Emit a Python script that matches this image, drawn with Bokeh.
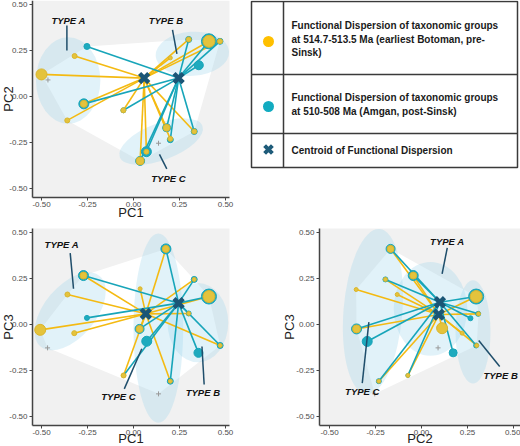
import numpy as np
from bokeh.plotting import figure
from bokeh.layouts import column, row
from bokeh.models import Range1d, FixedTicker, NumeralTickFormatter
from bokeh.embed import file_html
from bokeh.resources import INLINE
from bokeh.core.properties import value

# ---------------- data ----------------
TICKS = [-0.5, -0.25, 0.0, 0.25, 0.5]

# Panel 1 : PC1 (x) vs PC2 (y)
P1_Y_X = [-0.50, -0.32, -0.36, -0.27, -0.055, 0.18, 0.20, 0.33, 0.036, 0.07, 0.41, 0.30, 0.47, 0.20]
P1_Y_Y = [0.12, 0.22, -0.13, -0.04, -0.075, -0.17, -0.23, -0.19, -0.35, -0.30, 0.30, 0.31, 0.30, 0.21]
P1_Y_S = [11, 5, 5, 7, 5, 7, 5, 5, 8, 5, 12, 5, 5, 4]
P1_T_X = [-0.253, -0.27, -0.055, 0.036, 0.07, 0.18, 0.20, 0.33, 0.355, 0.30, 0.41, 0.47]
P1_T_Y = [0.272, -0.04, -0.075, -0.35, -0.30, -0.17, -0.235, -0.19, 0.17, 0.31, 0.30, 0.30]
P1_T_S = [6, 10, 5, 9, 10, 8, 6, 6, 9, 6, 15, 6]
P1_PLUS_X = [-0.465, 0.136]
P1_PLUS_Y = [0.09, -0.254]
P1_CENT_X = [0.058, 0.245]   # yellow, teal
P1_CENT_Y = [0.10, 0.10]
P1_ELL_X = [-0.355, 0.32, 0.15]
P1_ELL_Y = [0.087, 0.232, -0.245]
P1_ELL_W = [0.35, 0.40, 0.48]
P1_ELL_H = [0.47, 0.24, 0.20]
P1_ELL_A = [0.0, 0.06, 0.36]

# Panel 2 : PC1 (x) vs PC3 (y)
P2_Y_X = [-0.507, -0.359, -0.322, -0.272, -0.054, 0.176, 0.20, 0.33, 0.036, 0.033, 0.41, 0.30, 0.471]
P2_Y_Y = [-0.029, 0.163, -0.047, 0.266, -0.277, 0.411, -0.308, 0.245, 0.194, -0.024, 0.152, 0.06, -0.114]
P2_Y_S = [11, 5, 5, 7, 5, 7, 4, 4, 4, 7, 12, 4, 4]
P2_T_X = [-0.272, -0.253, 0.176, 0.33, 0.41, 0.072, 0.033, -0.054, 0.20, 0.353, 0.471, 0.30]
P2_T_Y = [0.266, 0.036, 0.411, 0.245, 0.152, -0.091, -0.024, -0.277, -0.308, -0.154, -0.114, 0.06]
P2_T_S = [10, 5, 10, 6, 15, 10, 9, 4, 6, 9, 6, 5]
P2_PLUS_X = [-0.467, 0.136]
P2_PLUS_Y = [-0.127, -0.377]
P2_CENT_X = [0.067, 0.245]
P2_CENT_Y = [0.058, 0.116]
P2_ELL_X = [-0.344, 0.135, 0.35]
P2_ELL_Y = [0.071, -0.02, 0.01]
P2_ELL_W = [0.50, 0.27, 0.33]
P2_ELL_H = [0.28, 1.03, 0.43]
P2_ELL_A = [0.87, 0.0, 0.0]

# Panel 3 : PC2 (x) vs PC3 (y)
P3_Y_X = [-0.168, -0.045, -0.355, -0.132, 0.297, 0.112, -0.353, -0.074, 0.221, -0.232, -0.196, 0.30, 0.31]
P3_Y_Y = [0.411, 0.266, 0.19, 0.163, 0.152, -0.02, -0.024, -0.277, -0.047, -0.308, 0.245, -0.114, 0.058]
P3_Y_S = [7, 7, 4, 4, 12, 11, 8, 4, 4, 4, 4, 4, 4]
P3_T_X = [-0.168, -0.045, -0.196, 0.297, 0.266, 0.308, 0.297, 0.172, -0.353, -0.295, -0.232, -0.074]
P3_T_Y = [0.411, 0.266, 0.245, 0.152, 0.034, 0.058, -0.114, -0.154, -0.024, -0.092, -0.308, -0.277]
P3_T_S = [9, 10, 5, 15, 5, 5, 5, 8, 10, 10, 5, 4]
P3_PLUS_X = [0.09, -0.254]
P3_PLUS_Y = [-0.127, -0.377]
P3_CENT_X = [0.094, 0.10]
P3_CENT_Y = [0.054, 0.121]
P3_ELL_X = [-0.264, 0.049, 0.28]
P3_ELL_Y = [0.07, 0.085, -0.04]
P3_ELL_W = [0.32, 0.40, 0.19]
P3_ELL_H = [0.90, 0.51, 0.56]
P3_ELL_A = [-0.08, 0.0, 0.0]

TYPE_LABELS = ["TYPE A", "TYPE B", "TYPE C"]

LEGEND_TEXT_1 = ["Functional Dispersion of taxonomic groups",
                 "at 514.7-513.5 Ma (earliest Botoman, pre-",
                 "Sinsk)"]
LEGEND_TEXT_2 = ["Functional Dispersion of taxonomic groups",
                 "at 510-508 Ma (Amgan, post-Sinsk)"]
LEGEND_TEXT_3 = ["Centroid of Functional Dispersion"]

# ---------------- style ----------------
BG = "#f1f1f1"
ELL_FILL = "#9dd3ec"
YEL_LINE = "#f4ba12"
YEL_PT = "#e4c33c"
TEAL_LINE = "#17a5b9"
TEAL_PT = "#1eaabe"
CENT = "#1b5676"
LEADER = "#1f4e6b"
FONT = "Liberation Sans"
SCALE = 184.0   # pixels per PC unit


def hull(xs, ys):
    pts = sorted(set(zip(xs, ys)))
    def cross(o, a, b):
        return (a[0]-o[0])*(b[1]-o[1]) - (a[1]-o[1])*(b[0]-o[0])
    lower, upper = [], []
    for p in pts:
        while len(lower) >= 2 and cross(lower[-2], lower[-1], p) <= 0:
            lower.pop()
        lower.append(p)
    for p in reversed(pts):
        while len(upper) >= 2 and cross(upper[-2], upper[-1], p) <= 0:
            upper.pop()
        upper.append(p)
    h = lower[:-1] + upper[:-1]
    return [p[0] for p in h], [p[1] for p in h]


def panel(width, height, x_px_m05, y_px_p05, panel_x, panel_y,
          yx, yy, ys, tx, ty, ts, px, py, cx, cy,
          ex, ey, ew, eh, ea, labels, leaders, xtitle, ytitle,
          xstand=-7, ystand=-6):
    # x_px_m05: pixel column of x=-0.5 ; y_px_p05: pixel row of y=+0.5
    x0 = -0.5 - x_px_m05 / SCALE
    y1 = 0.5 + y_px_p05 / SCALE
    p = figure(width=width, height=height,
               x_range=Range1d(x0, x0 + width / SCALE),
               y_range=Range1d(y1 - height / SCALE, y1),
               min_border=0, output_backend="svg", toolbar_location=None)
    p.background_fill_color = "white"
    p.border_fill_color = "white"
    p.outline_line_color = None
    p.grid.visible = False

    p.xaxis.fixed_location = panel_y[0]
    p.yaxis.fixed_location = panel_x[0]
    p.xaxis.bounds = panel_x
    p.yaxis.bounds = panel_y
    for ax in (p.xaxis, p.yaxis):
        ax.ticker = FixedTicker(ticks=TICKS)
        ax.formatter = NumeralTickFormatter(format="0.00")
        ax.axis_line_color = "#444444"
        ax.axis_line_width = 1.5
        ax.major_tick_line_color = "#444444"
        ax.major_tick_out = 3
        ax.major_tick_in = 0
        ax.minor_tick_line_color = None
        ax.major_label_text_font = FONT
        ax.major_label_text_font_size = "8px"
        ax.major_label_text_color = "#4d4d4d"
        ax.major_label_standoff = 2
        ax.axis_label_text_font = FONT
        ax.axis_label_text_font_size = "13px"
        ax.axis_label_text_font_style = "normal"
        ax.axis_label_text_color = "#222222"
    p.xaxis.axis_label = xtitle
    p.yaxis.axis_label = ytitle
    p.xaxis.axis_label_standoff = xstand
    p.yaxis.axis_label_standoff = ystand

    # grey panel background
    p.quad(left=[panel_x[0]], right=[panel_x[1]], bottom=[panel_y[0]], top=[panel_y[1]],
           fill_color=BG, line_color=None)

    allx = list(yx) + list(tx) + list(px)
    ally = list(yy) + list(ty) + list(py)
    hx, hy = hull(allx, ally)
    p.patch(hx, hy, fill_color="white", line_color=None)

    p.ellipse(x=ex, y=ey, width=ew, height=eh, angle=ea,
              fill_color=ELL_FILL, fill_alpha=0.3, line_color=None)

    p.segment(x0=[cx[0]]*len(yx), y0=[cy[0]]*len(yx), x1=yx, y1=yy,
              line_color=YEL_LINE, line_width=1.6)
    p.segment(x0=[cx[1]]*len(tx), y0=[cy[1]]*len(tx), x1=tx, y1=ty,
              line_color=TEAL_LINE, line_width=1.6)

    p.scatter(x=px, y=py, marker="cross", size=5, line_color="#999999", line_width=1)
    p.scatter(x=tx, y=ty, size=ts, marker="circle", fill_color=TEAL_PT, line_color=TEAL_LINE, line_width=1)
    p.scatter(x=yx, y=yy, size=ys, marker="circle", fill_color=YEL_PT, line_color="#dbb52c", line_width=1)
    p.scatter(x=cx, y=cy, marker="x", size=13, line_width=4.5, line_color=CENT)

    p.segment(x0=[l[0] for l in leaders], y0=[l[1] for l in leaders],
              x1=[l[2] for l in leaders], y1=[l[3] for l in leaders],
              line_color=LEADER, line_width=1.5)
    p.text(x=[l[0] for l in labels], y=[l[1] for l in labels], text=TYPE_LABELS,
           text_font=value(FONT), text_font_style="bold italic", text_font_size="9.5px",
           text_align="center", text_baseline="middle", text_color="#111111")
    return p


PX = (-0.5489, 0.5217)
PY = (-0.5489, 0.5217)

p1 = panel(248, 220, 41, 4, PX, PY,
           P1_Y_X, P1_Y_Y, P1_Y_S, P1_T_X, P1_T_Y, P1_T_S, P1_PLUS_X, P1_PLUS_Y,
           P1_CENT_X, P1_CENT_Y, P1_ELL_X, P1_ELL_Y, P1_ELL_W, P1_ELL_H, P1_ELL_A,
           [(-0.353, 0.413), (0.176, 0.413), (0.19, -0.444)],
           [(-0.362, 0.386, -0.362, 0.25), (0.212, 0.362, 0.236, 0.232), (0.141, -0.315, 0.181, -0.393)],
           "PC1", "PC2", xstand=-6, ystand=-10)

p2 = panel(248, 226, 41, 12, PX, PY,
           P2_Y_X, P2_Y_Y, P2_Y_S, P2_T_X, P2_T_Y, P2_T_S, P2_PLUS_X, P2_PLUS_Y,
           P2_CENT_X, P2_CENT_Y, P2_ELL_X, P2_ELL_Y, P2_ELL_W, P2_ELL_H, P2_ELL_A,
           [(-0.39, 0.435), (0.377, -0.368), (-0.082, -0.391)],
           [(-0.344, 0.388, -0.326, 0.194), (0.384, -0.326, 0.372, -0.12), (-0.05, -0.35, 0.045, -0.132)],
           "PC1", "PC3", xstand=-8, ystand=-10)

p3 = panel(272, 226, 81, 12, (-0.5543, 0.5381), PY,
           P3_Y_X, P3_Y_Y, P3_Y_S, P3_T_X, P3_T_Y, P3_T_S, P3_PLUS_X, P3_PLUS_Y,
           P3_CENT_X, P3_CENT_Y, P3_ELL_X, P3_ELL_Y, P3_ELL_W, P3_ELL_H, P3_ELL_A,
           [(0.14, 0.453), (0.43, -0.277), (-0.322, -0.362)],
           [(0.14, 0.417, 0.112, 0.275), (0.425, -0.228, 0.311, -0.087), (-0.322, -0.319, -0.286, 0.0125)],
           "PC2", "PC3", xstand=-8, ystand=-4)

# ---------------- legend table ----------------
lg = figure(width=272, height=220, x_range=Range1d(0, 272), y_range=Range1d(220, 0),
            min_border=0, output_backend="svg", toolbar_location=None)
lg.axis.visible = False
lg.grid.visible = False
lg.outline_line_color = None
lg.background_fill_color = "white"
lg.border_fill_color = "white"
lg.quad(left=[3], right=[269], top=[1], bottom=[167], fill_color="white",
        line_color="#3a3a3a", line_width=1.5)
lg.segment(x0=[35, 3, 3], y0=[1, 74, 133], x1=[35, 269, 269], y1=[167, 74, 133],
           line_color="#3a3a3a", line_width=1.5)
lg.scatter(x=[20], y=[41], size=11, marker="circle", fill_color="#ffc000", line_color=None)
lg.scatter(x=[20], y=[106], size=11, marker="circle", fill_color="#12abc0", line_color=None)
lg.scatter(x=[20], y=[149], size=11, marker="x", line_width=4, line_color="#1f5c7a")
lg_texts = LEGEND_TEXT_1 + LEGEND_TEXT_2 + LEGEND_TEXT_3
lg_y = [25, 38.5, 52, 97, 110.5, 150]
lg.text(x=[43]*len(lg_texts), y=lg_y, text=lg_texts, text_font=value(FONT),
        text_font_style="bold", text_font_size="10px", text_align="left",
        text_baseline="middle", text_color="#1a1a1a")

layout = column(row(p1, lg), row(p2, p3))
open("out.html", "w").write(file_html(layout, INLINE))
